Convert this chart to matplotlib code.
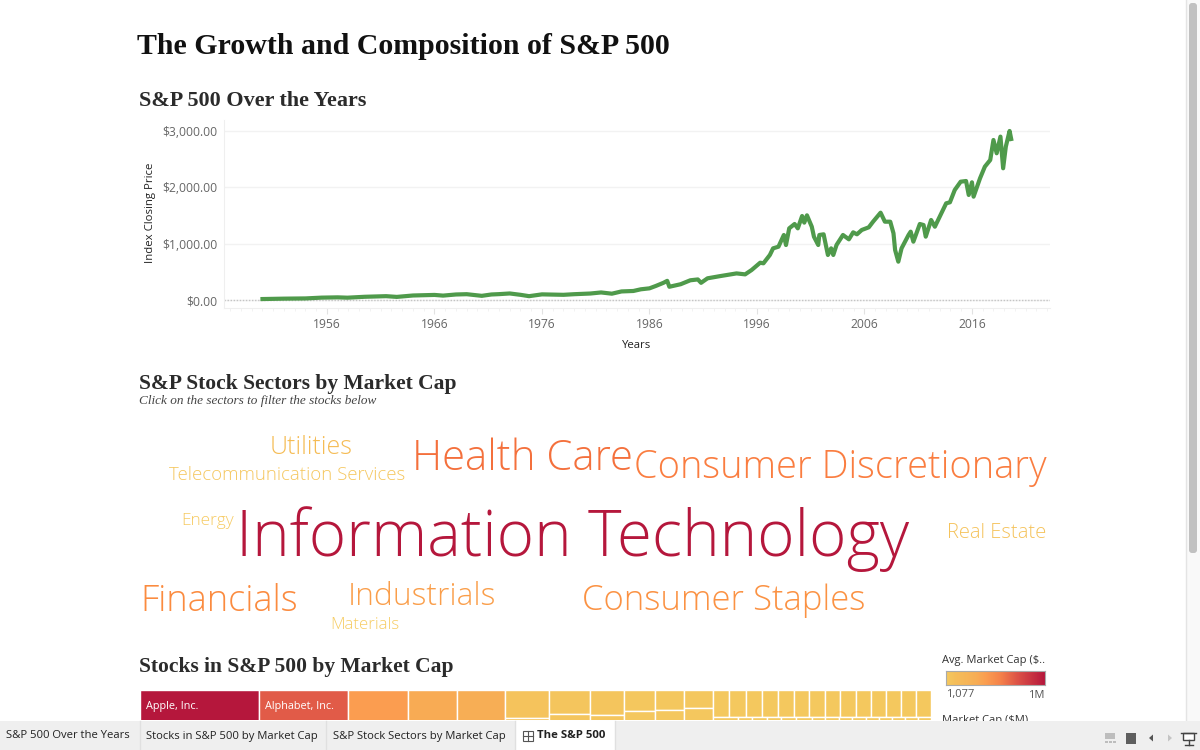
import matplotlib
matplotlib.use("Agg")
import matplotlib.pyplot as plt
import numpy as np
from matplotlib.colors import LinearSegmentedColormap, Normalize, PowerNorm
from matplotlib.patches import Rectangle, Polygon, FancyBboxPatch
from matplotlib.ticker import FixedLocator, MultipleLocator, FuncFormatter

# S&P 500 closing price, read at the turning points of the series
years = [1950.0, 1952.0, 1954.0, 1955.5, 1957.0, 1957.9, 1959.5, 1961.5, 1962.5, 1964.0, 1966.0, 1966.8,
         1968.0, 1969.0, 1970.4, 1971.3, 1972.0, 1973.0, 1974.0, 1974.8, 1976.0, 1978.0, 1979.0, 1980.5,
         1981.5, 1982.5, 1983.4, 1984.5, 1985.2, 1986.0, 1986.6, 1987.3, 1987.65, 1987.85, 1988.9, 1989.8,
         1990.5, 1990.8, 1991.4, 1992.6, 1994.1, 1994.9, 1995.5, 1996.3, 1996.6, 1997.2, 1997.5, 1998.0,
         1998.5, 1998.7, 1999.0, 1999.5, 1999.8, 2000.2, 2000.4, 2000.65, 2001.1, 2001.3, 2001.7, 2001.8,
         2002.2, 2002.6, 2002.9, 2003.1, 2003.4, 2004.0, 2004.55, 2004.95, 2005.3, 2005.75, 2006.4, 2006.8,
         2007.5, 2007.9, 2008.4, 2008.7, 2008.85, 2009.15, 2009.45, 2010.1, 2010.3, 2010.55, 2011.15, 2011.5,
         2011.7, 2012.2, 2012.55, 2013.0, 2013.6, 2013.95, 2014.4, 2014.95, 2015.45, 2015.7, 2016.0, 2016.15,
         2016.75, 2017.2, 2017.7, 2018.0, 2018.3, 2018.65, 2018.9, 2019.15, 2019.5, 2019.65]
closes = [17, 24, 28, 42, 47, 41, 57, 68, 55, 80, 90, 78,
          98, 103, 74, 98, 104, 116, 92, 68, 100, 92, 103, 115,
          134, 112, 152, 160, 190, 207, 250, 305, 340, 235, 280, 350,
          365, 305, 385, 425, 472, 455, 532, 662, 651, 799, 917, 946,
          1154, 976, 1272, 1349, 1272, 1491, 1373, 1503, 1301, 1124, 976, 1154,
          1166, 799, 917, 799, 976, 1154, 1077, 1201, 1166, 1243, 1290, 1390,
          1550, 1390, 1390, 1184, 888, 680, 917, 1154, 1213, 1035, 1349, 1331,
          1124, 1420, 1301, 1479, 1716, 1734, 1953, 2100, 2112, 1864, 2089, 1834,
          2160, 2367, 2485, 2840, 2604, 2900, 2338, 2722, 3000, 2858]
price_ticks = [0, 1000, 2000, 3000]
year_ticks = [1956, 1966, 1976, 1986, 1996, 2006, 2016]

# sector market caps, $B
sectors = ["Information Technology", "Health Care", "Consumer Discretionary", "Consumer Staples",
           "Financials", "Industrials", "Utilities", "Telecommunication Services", "Energy",
           "Real Estate", "Materials"]
sector_caps = [5000, 2750, 2350, 2000, 2150, 1700, 1000, 350, 200, 500, 150]

# stock market caps, $M, one list per treemap column
stock_names = {(0, 0): "Apple, Inc.", (1, 0): "Alphabet, Inc."}
stock_columns = [
    [1000000],
    [750000],
    [500000],
    [415000],
    [400000],
    [104000, 100000, 90000, 78700],
    [81000, 79000, 72000, 60000, 46800],
    [72000, 71000, 65000, 50000, 30000],
    [55000, 54000, 50000, 45000, 35000, 23600],
    [48000, 47000, 45000, 40000, 35000, 30600],
    [43000, 42500, 41000, 38000, 35000, 37500],
]
# the smallest stocks fill one block, laid out in rows
stock_rows = [
    [38000, 38000, 36000, 36000, 36000, 36000, 36000, 34000, 36000, 34000, 34000, 34000, 34000, 34000],
    [32500, 17600, 19000, 17600, 19000, 19000, 17600, 17600, 16300, 17600, 16300, 16300, 16300, 16300, 16300],
    [40000, 38000, 36000, 34000, 32000, 30000, 28000, 26000, 24000, 22000, 20000, 18000, 16000, 13000],
    [30000, 29000, 28000, 27000, 26000, 25000, 24000, 23000, 22000, 21000, 20000, 19000, 18000, 17000],
    [16000, 16000, 15000, 15000, 14000, 14000, 13000, 13000, 12000, 12000, 11000, 11000, 10000, 10000],
    [9800, 9500, 9200, 9000, 8800, 8500, 8200, 8000, 7800, 7500, 7200, 7000, 6800, 6500],
    [6200, 6000, 5800, 5500, 5200, 5000, 4800, 4500, 4200, 4000, 3500, 3000, 2500, 1077],
]
legend_labels = ["1,077", "1M"]
tab_names = ["S&P 500 Over the Years", "Stocks in S&P 500 by Market Cap", "S&P Stock Sectors by Market Cap"]

ui_font = "Open Sans"
head_font = "Liberation Serif"
W, H = 1200, 750


def px_axes(left, top, right, bottom, **kw):
    return fig.add_axes([left / W, 1 - bottom / H, (right - left) / W, (bottom - top) / H], **kw)


fig = plt.figure(figsize=(12, 7.5), dpi=100, facecolor="white")

# page level text sits on a full-size axes measured in pixels
page = px_axes(0, 0, W, H)
page.set_xlim(0, W)
page.set_ylim(H, 0)
page.axis("off")

page.text(137, 53.5, "The Growth and Composition of S&P 500", family=head_font, weight="bold",
          fontsize=21.5, color="#111111")
for y, size, label in [(106, 15.9, "S&P 500 Over the Years"), (389, 15.5, "S&P Stock Sectors by Market Cap"),
                       (672, 15.5, "Stocks in S&P 500 by Market Cap")]:
    page.text(139, y, label, family=head_font, weight="bold", fontsize=size, color="#2b2b2b")
page.text(139, 404, "Click on the sectors to filter the stocks below", family=head_font, style="italic",
          fontsize=9.5, color="#444444")

# line chart
ax = px_axes(224, 120, 1050, 308)
ax.set_xlim(1946.42, 2023.26)
ax.set_ylim(-142, 3195)
ax.plot(years, closes, color="#4f9a4b", lw=3, solid_joinstyle="round", zorder=3)
ax.axhline(0, color="#c4c4c4", lw=1, ls=(0, (1, 1.2)), zorder=2)
ax.yaxis.set_major_locator(FixedLocator(price_ticks))
ax.yaxis.set_major_formatter(FuncFormatter(lambda v, _: f"${v:,.2f}"))
ax.xaxis.set_major_locator(FixedLocator(year_ticks))
ax.xaxis.set_minor_locator(MultipleLocator(1))
ax.grid(axis="y", color="#f2f2f2", lw=1)
ax.set_axisbelow(True)
for side in ["top", "right"]:
    ax.spines[side].set_visible(False)
for side in ["left", "bottom"]:
    ax.spines[side].set_color("#efefef")
ax.tick_params(axis="y", length=0, pad=5, labelsize=8.7, labelcolor="#666666")
ax.tick_params(axis="x", which="major", length=4, color="#e2e2e2", pad=3, labelsize=8.7, labelcolor="#666666")
ax.tick_params(axis="x", which="minor", length=2, color="#f0f0f0")
for t in ax.get_xticklabels() + ax.get_yticklabels():
    t.set_family(ui_font)
page.text(151, 213, "Index Closing Price", family=ui_font, fontsize=8.2, color="#222222",
          rotation=90, ha="center", va="center")
page.text(636.5, 345.5, "Years", family=ui_font, fontsize=8.2, color="#222222", ha="center", va="center")

# colour ramps for the treemap and the word cloud
ramp = LinearSegmentedColormap.from_list("cap", [(0, "#f4c95f"), (0.1, "#f5bd5a"), (0.3, "#f7ae55"),
                                                 (0.4, "#fb9e50"), (0.55, "#f5824a"), (0.72, "#dd5347"),
                                                 (1, "#b5173c")])
cap_norm = PowerNorm(gamma=1.3, vmin=1077, vmax=1000000)
sector_ramp = LinearSegmentedColormap.from_list("sector", [(0, "#f6cf65"), (0.1, "#f5c35c"), (0.2, "#f5bc55"),
                                                           (0.34, "#fa9e4a"), (0.43, "#fb8c3f"), (0.47, "#fa7d40"),
                                                           (0.55, "#f4703c"), (1, "#b5173c")])

# sector word cloud, type size follows the market cap
cloud_anchor = {"Utilities": (270, 454), "Telecommunication Services": (169, 480), "Health Care": (412, 470),
                "Consumer Discretionary": (634, 478), "Energy": (181, 525), "Information Technology": (236, 556),
                "Real Estate": (947, 538), "Financials": (140, 611), "Industrials": (348, 605),
                "Consumer Staples": (582, 610), "Materials": (330, 629)}
sector_norm = Normalize(0, max(sector_caps))
for name, cap in zip(sectors, sector_caps):
    share = sector_norm(cap)
    x, y = cloud_anchor[name]
    page.text(x, y, name, family="Open Sans", weight="light", fontsize=11 + 34.9 * share,
              color=sector_ramp(share))

# treemap, clipped by the tab bar
tm = px_axes(140, 690, 931, 720)
total = sum(sum(c) for c in stock_columns) + sum(sum(r) for r in stock_rows)
tm.set_xlim(0, 1)
tm.set_ylim(30, 0)
tm.axis("off")
x0 = 0.0
for i, col in enumerate(stock_columns):
    width = sum(col) / total
    y0 = 0.0
    for j, cap in enumerate(col):
        h = cap / sum(col) * 100
        tm.add_patch(Rectangle((x0, y0), width, h, fc=ramp(cap_norm(cap)), ec="white", lw=1))
        if (i, j) in stock_names:
            tm.text(x0 + 6 / 791, 16, stock_names[(i, j)], family=ui_font, fontsize=7.8, color="white",
                    va="center")
        y0 += h
    x0 += width
block = sum(sum(r) for r in stock_rows)
y0 = 0.0
for row in stock_rows:
    h = sum(row) / block * 100
    x = x0
    for cap in row:
        width = cap / sum(row) * block / total
        tm.add_patch(Rectangle((x, y0), width, h, fc=ramp(cap_norm(cap)), ec="white", lw=1))
        x += width
    y0 += h

# legend
page.text(942, 663, "Avg. Market Cap ($..", family=ui_font, fontsize=8, color="#333333")
cb = px_axes(946, 671, 1045, 685)
cb.imshow(np.linspace(0, 1, 256).reshape(1, -1), cmap=ramp, aspect="auto")
cb.set_xticks([])
cb.set_yticks([])
for s in cb.spines.values():
    s.set_color("#aaaaaa")
page.text(946, 695, legend_labels[0], family=ui_font, fontsize=8, color="#555555", va="center")
page.text(1045, 695, legend_labels[1], family=ui_font, fontsize=8, color="#555555", va="center", ha="right")
page.text(942, 723, "Market Cap ($M)", family=ui_font, fontsize=8, color="#333333")

# scroll bar
page.add_patch(Rectangle((1186, 0), 14, 722, fc="#f9f9f9", ec="none"))
page.plot([1186, 1186], [0, 722], color="#e4e4e4", lw=1)
page.add_patch(FancyBboxPatch((1189, 3), 8, 550, boxstyle="round,pad=0,rounding_size=3", fc="#c1c1c1", ec="none"))

# tab bar along the bottom edge
bar = px_axes(0, 0, W, H, zorder=5)
bar.patch.set_alpha(0)
bar.set_xlim(0, W)
bar.set_ylim(H, 0)
bar.axis("off")
bar.add_patch(Rectangle((0, 721), W, 29, fc="#efefef", ec="none"))
bar.add_patch(Rectangle((515, 721), 100, 29, fc="white", ec="none"))
for x in [139.5, 325.5, 515, 615]:
    bar.plot([x, x], [721, 750], color="#e0e0e0", lw=1)
for x, label in zip([6, 146, 333], tab_names):
    bar.text(x, 736, label, family=ui_font, fontsize=8.1, color="#222222", va="center")
bar.text(537, 736, "The S&P 500", family=ui_font, weight="bold", fontsize=8.2, color="#222222", va="center")
bar.add_patch(Rectangle((522.5, 731), 10, 10, fc="none", ec="#555555", lw=0.8))
bar.plot([527.5, 527.5], [731, 741], color="#555555", lw=0.8)
bar.plot([522.5, 532.5], [736, 736], color="#555555", lw=0.8)

# view controls at the right of the tab bar
bar.add_patch(Rectangle((1105, 733), 10, 6, fc="#bdbdbd", ec="none"))
for x in [1105, 1109, 1113]:
    bar.add_patch(Rectangle((x, 741), 2.5, 2, fc="#bdbdbd", ec="none"))
bar.add_patch(Rectangle((1126, 733), 10, 11, fc="#5e5e5e", ec="none"))
bar.add_patch(Polygon([[1149, 738], [1153, 734.5], [1153, 741.5]], fc="#555555", ec="none"))
bar.add_patch(Polygon([[1172, 738], [1168, 734.5], [1168, 741.5]], fc="#c4c4c4", ec="none"))
bar.add_patch(Rectangle((1183, 733), 11, 7, fc="white", ec="#444444", lw=1))
bar.plot([1181, 1196], [733, 733], color="#444444", lw=1)
bar.plot([1189, 1189], [740, 745], color="#444444", lw=1)
bar.plot([1185, 1193], [745, 745], color="#444444", lw=1)

fig.savefig("out.png", dpi=100)
